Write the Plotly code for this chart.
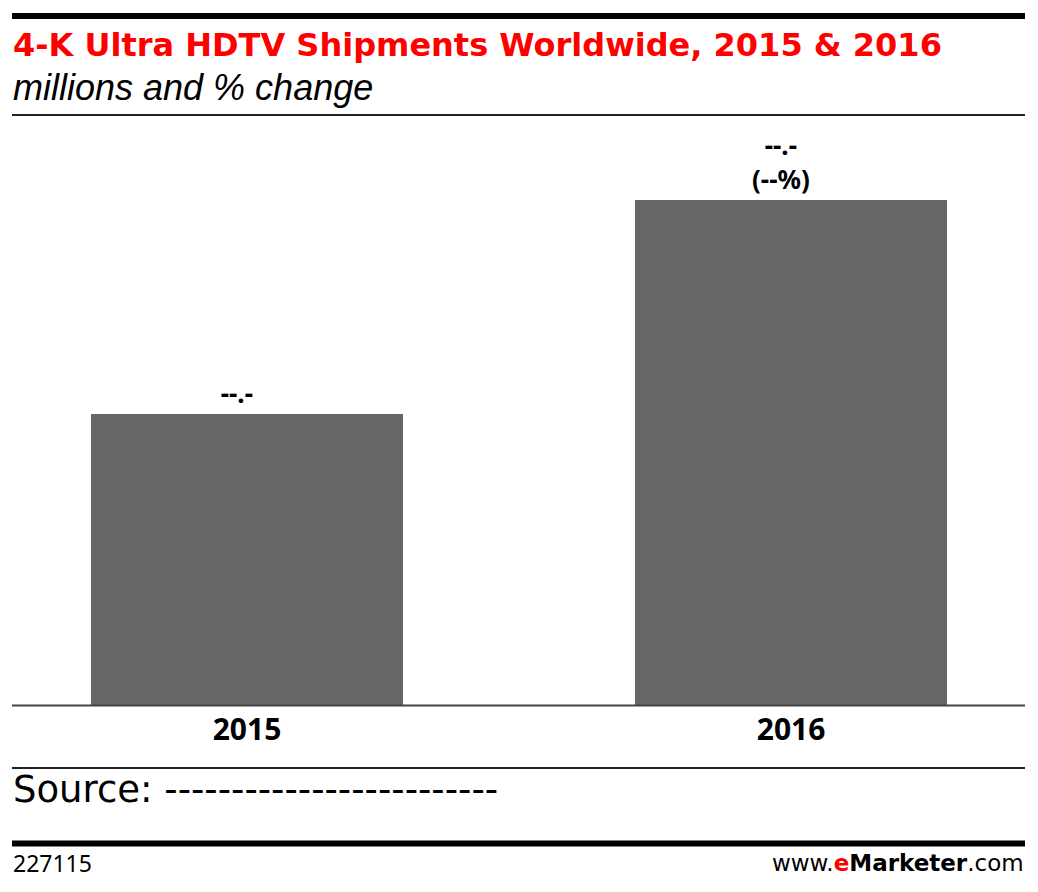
import plotly.graph_objects as go

# data (values hidden in the source, bar heights)
years = ["2015", "2016"]
shipments = [29.1, 50.5]
value_labels = ["--.-", "--.-<br>(--%)"]

# de pagina heeft 8px body-marge, dus alles 8px opschuiven
OFF = 8
W, H = 1038 - OFF, 892 - OFF
LEFT, RIGHT = 12 - OFF, 1025 - OFF
PLOT_TOP, PLOT_BOTTOM = 115 - OFF, 705 - OFF


def py(y_px):
    # pixelrij in de referentie -> paper y
    return (PLOT_BOTTOM - (y_px - OFF)) / (PLOT_BOTTOM - PLOT_TOP)


def px(x_px):
    return ((x_px - OFF) - LEFT) / (RIGHT - LEFT)


pad = "&nbsp;" * 3
bar_text = ["<br>".join(t + pad for t in lab.split("<br>")) for lab in value_labels]

fig = go.Figure()

fig.add_trace(go.Bar(
    x=years, y=shipments,
    marker=dict(color="#666666", line=dict(width=0)),
    width=0.574,
    text=bar_text,
    textposition="outside",
    textfont=dict(family="Noto Sans", size=26, color="#000000", weight="bold"),
    cliponaxis=False,
    hoverinfo="skip",
))

lines = [
    (16, 6, "#000000"),     # dikke lijn boven
    (115, 2, "#222222"),    # onder de titel
    (705.5, 2, "#444444"),  # basislijn
    (768, 2, "#222222"),    # boven de bron
    (843.5, 6, "#000000"),  # dikke lijn onder
]
shapes = []
for y, w, c in lines:
    shapes.append(dict(
        type="line", xref="paper", yref="paper",
        x0=0, x1=1, y0=py(y), y1=py(y),
        line=dict(color=c, width=w),
        layer="above",
    ))

annotations = [
    dict(text="4-K Ultra HDTV Shipments Worldwide, 2015 &amp; 2016",
         x=px(11), y=py(45), xanchor="left", yanchor="middle",
         font=dict(family="DejaVu Sans", size=32, color="#ff0000", weight="bold")),
    dict(text="<i>millions and % change</i>",
         x=px(11), y=py(87), xanchor="left", yanchor="middle",
         font=dict(family="Liberation Sans", size=36, color="#000000")),
    dict(text="Source: " + "-" * 25,
         x=px(11), y=py(789), xanchor="left", yanchor="middle",
         font=dict(family="DejaVu Sans", size=37, color="#000000")),
    dict(text="227115",
         x=px(11), y=py(863), xanchor="left", yanchor="middle",
         font=dict(family="Noto Sans", size=23, color="#000000")),
    dict(text="www.<b><span style='color:#ff0000'>e</span>Marketer</b>.com",
         x=px(1026), y=py(863), xanchor="right", yanchor="middle",
         font=dict(family="DejaVu Sans", size=23, color="#000000")),
]
for a in annotations:
    a.update(xref="paper", yref="paper", showarrow=False)

fig.update_layout(
    width=W, height=H,
    margin=dict(l=LEFT, r=W - RIGHT, t=PLOT_TOP, b=H - PLOT_BOTTOM, pad=0),
    paper_bgcolor="#ffffff",
    plot_bgcolor="#ffffff",
    showlegend=False,
    bargap=0,
    xaxis=dict(
        type="category",
        range=[-0.432, 1.430],
        showgrid=False, zeroline=False, showline=False,
        ticks="",
        ticklabelstandoff=4,
        tickfont=dict(family="Noto Sans", size=30, color="#000000", weight="bold"),
    ),
    yaxis=dict(
        range=[0, 59],
        visible=False,
        fixedrange=True,
    ),
    shapes=shapes,
    annotations=annotations,
)

fig.write_html("out.html")
